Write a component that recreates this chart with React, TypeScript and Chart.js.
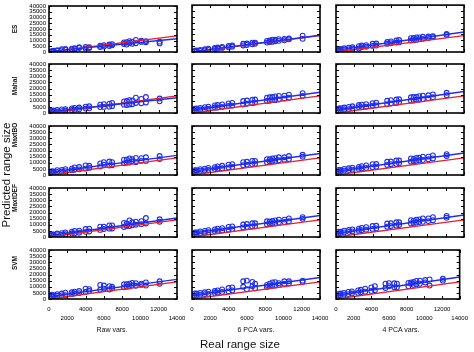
import React, { useEffect, useRef } from "react";
import { Chart, registerables } from "chart.js";
Chart.register(...registerables);

// ---------- data ----------
const realX = [300, 500, 900, 1400, 1800, 2500, 2800, 3300, 4000, 4400, 5600, 6000, 6600, 6900, 8200, 8500, 8800, 9100, 9500, 10100, 10600, 12100];
const xTickValues = [0, 2000, 4000, 6000, 8000, 10000, 12000, 14000];
const yTickValues = [0, 5000, 10000, 15000, 20000, 25000, 30000, 35000, 40000];
const identityLine = [0, 14000];
const models = ["ES", "Mahal", "MaxtBO", "MaxtDEF", "SVM"];
const varSets = ["Raw vars.", "6 PCA vars.", "4 PCA vars."];

const esRawA = [800, 1200, 1500, 2500, 1800, 2900, 3200, 3500, 3000, 4200, 5500, 4800, 6500, 5800, 7000, 8500, 9500, 7200, 10500, 8800, 8500, 7500];
const esRawB = [400, 700, 1000, 1500, 2600, 2200, 2500, 4200, 4400, 3500, 4300, 6000, 5200, 6800, 8300, 6500, 7800, 9000, 7600, 9800, 9500, 9000];
const esRawFit = [500, 11500];
const es6A = [1200, 800, 1800, 1500, 2800, 2500, 3800, 3500, 5200, 4500, 7000, 6000, 8000, 7000, 9500, 8500, 10500, 9200, 11000, 10000, 11500, 14000];
const es6B = [500, 1300, 1000, 2300, 1800, 3400, 2900, 4300, 4000, 5500, 5600, 7200, 6600, 8000, 8000, 9800, 8800, 10400, 9500, 11200, 10800, 11200];
const es6Fit = [300, 14300];
const es4A = [2500, 1500, 3200, 2200, 4200, 3000, 5500, 4500, 7000, 5500, 8500, 7500, 9800, 8200, 11800, 10000, 12500, 10800, 13000, 12000, 13500, 15500];
const es4B = [1500, 2500, 2000, 3600, 3000, 5000, 4000, 5800, 5200, 7200, 7000, 9000, 8000, 10200, 9800, 12000, 10500, 12500, 11200, 13200, 12800, 14500];
const es4Fit = [1500, 17000];

const mahalRawA = [1800, 900, 2500, 1500, 3200, 2400, 4200, 3000, 5200, 3800, 6800, 7200, 5200, 8200, 9500, 6500, 10500, 7200, 12500, 8000, 13000, 9500];
const mahalRawB = [800, 2000, 1200, 2900, 2000, 3800, 2600, 4500, 3600, 5500, 4800, 5000, 7600, 5600, 6800, 9800, 7000, 10200, 8200, 11500, 8600, 11800];
const mahalRawFit = [1000, 12500];
const mahal6A = [3500, 2200, 4200, 3000, 5200, 4500, 6500, 5000, 7800, 6000, 9800, 7500, 10800, 8500, 12500, 10000, 13000, 10500, 14000, 11800, 15000, 14000];
const mahal6B = [2000, 3800, 2800, 4800, 3500, 6200, 4500, 7000, 5800, 8200, 7000, 10200, 8000, 11000, 9800, 12800, 10500, 13500, 11000, 14200, 12500, 16200];
const mahal6Fit = [2500, 17000];
const mahal4A = [3800, 2500, 4500, 3200, 5500, 4800, 6800, 5200, 8000, 6200, 10000, 7800, 11000, 8800, 12800, 10200, 13200, 10800, 14200, 12000, 15200, 14500];
const mahal4B = [2300, 4000, 3000, 5000, 3800, 6500, 4800, 7200, 6000, 8500, 7200, 10500, 8200, 11200, 10000, 13000, 10800, 13800, 11200, 14500, 12800, 16500];
const mahal4Fit = [2500, 17500];

const maxtBORawA = [3200, 2000, 4000, 2800, 4800, 3800, 6200, 4600, 7800, 5800, 9500, 8500, 11000, 8000, 12500, 10000, 13500, 11000, 14000, 11500, 14500, 15500];
const maxtBORawB = [1800, 3000, 2400, 4200, 3200, 5200, 4200, 6500, 5200, 7500, 7000, 10500, 7800, 10500, 9500, 12500, 10200, 13000, 10500, 13800, 11500, 13000];
const maxtBORawFit = [2000, 16000];
const maxtBO6A = [4000, 2800, 4800, 3800, 5800, 4800, 7000, 5500, 8500, 6500, 10500, 8500, 11500, 9000, 13000, 11000, 13500, 11500, 14500, 12500, 15500, 16500];
const maxtBO6B = [2800, 4000, 3500, 5200, 4200, 6400, 5200, 7500, 6200, 8800, 8000, 10800, 8800, 11500, 10500, 12800, 11200, 13800, 12000, 14500, 13000, 15000];
const maxtBO6Fit = [3000, 17500];
const maxtBO4A = [4200, 3000, 5000, 4000, 6000, 5000, 7200, 5800, 8800, 6800, 10800, 8800, 11800, 9500, 13500, 11200, 14000, 12000, 15000, 12800, 16000, 17000];
const maxtBO4B = [3000, 4200, 3600, 5500, 4400, 6600, 5400, 7800, 6400, 9000, 8200, 11000, 9000, 11800, 10800, 13200, 11500, 14200, 12200, 15000, 13500, 15500];
const maxtBO4Fit = [3000, 18000];

const maxtDEFRawA = [2000, 1000, 2800, 1800, 3800, 2800, 5000, 3500, 6500, 4500, 8500, 6500, 9500, 7000, 11500, 9000, 13500, 9500, 12500, 10500, 15500, 14500];
const maxtDEFRawB = [1000, 2000, 1500, 3200, 2200, 4400, 3000, 5200, 4200, 6800, 5800, 8500, 6800, 9500, 8200, 11000, 9000, 12000, 10000, 13000, 11000, 12500];
const maxtDEFRawFit = [1000, 15500];
const maxtDEF6A = [3800, 2600, 4600, 3600, 5600, 4600, 6800, 5400, 8200, 6400, 10200, 8200, 11200, 8800, 12800, 10800, 13200, 11200, 14200, 12200, 15200, 16200];
const maxtDEF6B = [2600, 3800, 3200, 5000, 4000, 6200, 5000, 7200, 6000, 8600, 7800, 10600, 8600, 11200, 10200, 12600, 11000, 13600, 11800, 14200, 12800, 14800];
const maxtDEF6Fit = [3000, 17500];
const maxtDEF4A = [4400, 3200, 5200, 4200, 6200, 5200, 7400, 6000, 9000, 7000, 11000, 9000, 12000, 9800, 13800, 11500, 14200, 12200, 15200, 13000, 16200, 17200];
const maxtDEF4B = [3200, 4400, 3800, 5700, 4600, 6800, 5600, 8000, 6600, 9200, 8400, 11200, 9200, 12000, 11000, 13400, 11800, 14400, 12400, 15200, 13700, 15800];
const maxtDEF4Fit = [3000, 18000];

const svmRawA = [3500, 2200, 4000, 3000, 5200, 4000, 6000, 4800, 8500, 6500, 11500, 8500, 10500, 8500, 12000, 10000, 12500, 11000, 13000, 11500, 13500, 14500];
const svmRawB = [2000, 3200, 2600, 4500, 3200, 5500, 4500, 6500, 5800, 8000, 7500, 11000, 7800, 10000, 9500, 12000, 10200, 13200, 10800, 12500, 11000, 12500];
const svmRawFit = [2000, 16000];
const svm6A = [4500, 3000, 5000, 4000, 6000, 5000, 7000, 5800, 9000, 7000, 14500, 15000, 14000, 8800, 11500, 12500, 13500, 11000, 13000, 12500, 14500, 15000];
const svm6B = [3000, 4500, 3500, 5500, 4200, 6500, 5200, 7800, 6200, 9500, 10000, 8000, 10500, 12500, 9800, 10500, 11000, 13800, 11500, 14500, 12800, 13800];
const svm6Fit = [3000, 17500];
const svm4A = [4200, 3000, 5000, 4000, 6200, 5000, 7500, 6000, 9500, 7200, 12500, 13000, 12800, 9500, 13200, 12500, 14000, 12000, 15000, 13500, 16000, 16500];
const svm4B = [3000, 4500, 3600, 5800, 4500, 7000, 5500, 8500, 6500, 10500, 9000, 10500, 9500, 12500, 10500, 13500, 11500, 14800, 12500, 15500, 11000, 15000];
const svm4Fit = [3000, 18000];

const panels = [
  [[esRawA, esRawB, esRawFit], [es6A, es6B, es6Fit], [es4A, es4B, es4Fit]],
  [[mahalRawA, mahalRawB, mahalRawFit], [mahal6A, mahal6B, mahal6Fit], [mahal4A, mahal4B, mahal4Fit]],
  [[maxtBORawA, maxtBORawB, maxtBORawFit], [maxtBO6A, maxtBO6B, maxtBO6Fit], [maxtBO4A, maxtBO4B, maxtBO4Fit]],
  [[maxtDEFRawA, maxtDEFRawB, maxtDEFRawFit], [maxtDEF6A, maxtDEF6B, maxtDEF6Fit], [maxtDEF4A, maxtDEF4B, maxtDEF4Fit]],
  [[svmRawA, svmRawB, svmRawFit], [svm6A, svm6B, svm6Fit], [svm4A, svm4B, svm4Fit]],
];

// ---------- layout ----------
const W = 474;
const H = 352;
const AXW = 30; // fixed y-axis box width
const AXH = 30; // fixed x-axis box height
const colLeft = [49, 192, 336];
const colRight = [177, 320, 464];
const rowTop = [3, 64, 126, 188, 250];
const rowBottom = [52, 113, 175, 237, 299];
const rowLabelY = [29, 86, 135, 198, 263];
const colLabelX = [112, 256, 401];
const FONT = "'Liberation Sans', Arial, sans-serif";
const BLUE = "#1f2ee8";
const RED = "#e8202a";

const framePlugin = {
  id: "frameTicks",
  afterDatasetsDraw(chart: any) {
    const { ctx, chartArea: a, scales } = chart;
    const xs = scales.x;
    const ys = scales.y;
    ctx.save();
    ctx.strokeStyle = "#000";
    ctx.lineWidth = 1;
    ctx.beginPath();
    xs.ticks.forEach((t: any) => {
      const px = Math.round(xs.getPixelForValue(t.value)) + 0.5;
      ctx.moveTo(px, a.bottom);
      ctx.lineTo(px, a.bottom - 3);
      ctx.moveTo(px, a.top);
      ctx.lineTo(px, a.top + 3);
    });
    ys.ticks.forEach((t: any) => {
      const py = Math.round(ys.getPixelForValue(t.value)) + 0.5;
      ctx.moveTo(a.left, py);
      ctx.lineTo(a.left + 3, py);
      ctx.moveTo(a.right, py);
      ctx.lineTo(a.right - 3, py);
    });
    ctx.stroke();
    ctx.lineWidth = 1.6;
    ctx.strokeRect(a.left, a.top, a.right - a.left, a.bottom - a.top);
    ctx.restore();
  },
};

function makeConfig(r: number, c: number): any {
  const [ya, yb, fit] = panels[r][c];
  const pts = realX.map((x, i) => ({ x, y: ya[i] })).concat(realX.map((x, i) => ({ x, y: yb[i] })));
  const showY = c === 0;
  const showX = r === panels.length - 1;
  return {
    type: "scatter",
    data: {
      datasets: [
        {
          type: "line",
          data: [
            { x: identityLine[0], y: fit[0] },
            { x: identityLine[1], y: fit[1] },
          ],
          borderColor: BLUE,
          borderWidth: 1.4,
          pointRadius: 0,
          fill: false,
        },
        {
          type: "line",
          data: [
            { x: identityLine[0], y: identityLine[0] },
            { x: identityLine[1], y: identityLine[1] },
          ],
          borderColor: RED,
          borderWidth: 1.4,
          pointRadius: 0,
          fill: false,
        },
        {
          data: pts,
          pointStyle: "circle",
          pointRadius: 2.4,
          borderWidth: 1.1,
          borderColor: BLUE,
          backgroundColor: "rgba(0,0,0,0)",
        },
      ],
    },
    options: {
      responsive: false,
      animation: false,
      events: [],
      devicePixelRatio: 1,
      layout: {
        padding: {
          left: colLeft[c] - AXW,
          right: W - colRight[c],
          top: rowTop[r],
          bottom: H - rowBottom[r] - AXH,
        },
      },
      plugins: { legend: { display: false }, tooltip: { enabled: false }, title: { display: false } },
      scales: {
        x: {
          type: "linear",
          min: 0,
          max: 14000,
          grid: { display: false, drawTicks: false },
          border: { display: false },
          afterFit: (s: any) => {
            s.height = AXH;
          },
          afterBuildTicks: (s: any) => {
            s.ticks = xTickValues.map((v) => ({ value: v }));
          },
          ticks: {
            display: showX,
            autoSkip: false,
            maxRotation: 0,
            minRotation: 0,
            padding: 6,
            color: "#000",
            font: { family: FONT, size: 6, lineHeight: 1.5 },
            callback: (v: any, i: number) => (i % 2 === 0 ? [String(v)] : ["", String(v)]),
          },
        },
        y: {
          type: "linear",
          min: 0,
          max: 40000,
          grid: { display: false, drawTicks: false },
          border: { display: false },
          afterFit: (s: any) => {
            s.width = AXW;
          },
          afterBuildTicks: (s: any) => {
            s.ticks = yTickValues.map((v) => ({ value: v }));
          },
          ticks: {
            display: showY,
            autoSkip: false,
            padding: 3,
            color: "#000",
            font: { family: FONT, size: 6, lineHeight: 1 },
            callback: (v: any) => String(v),
          },
        },
      },
    },
    plugins: [framePlugin],
  };
}

const abs = (x: number, y: number, rot: boolean, size: number, bold = false): React.CSSProperties => ({
  position: "absolute",
  left: x,
  top: y,
  transform: `translate(-50%, -50%)${rot ? " rotate(-90deg)" : ""}`,
  whiteSpace: "nowrap",
  fontFamily: FONT,
  fontSize: size,
  fontWeight: bold ? "bold" : "normal",
  color: "#111",
  lineHeight: 1,
});

export default function App() {
  const refs = useRef<(HTMLCanvasElement | null)[]>([]);
  useEffect(() => {
    const charts: Chart[] = [];
    for (let r = 0; r < panels.length; r++) {
      for (let c = 0; c < 3; c++) {
        const cv = refs.current[r * 3 + c];
        if (cv) charts.push(new Chart(cv, makeConfig(r, c)));
      }
    }
    return () => charts.forEach((ch) => ch.destroy());
  }, []);

  const canvases = [];
  for (let i = 0; i < panels.length * 3; i++) {
    canvases.push(
      <canvas
        key={i}
        width={W}
        height={H}
        ref={(el) => {
          refs.current[i] = el;
        }}
        style={{ position: "absolute", left: 0, top: 0, width: W, height: H }}
      />
    );
  }

  return (
    <div style={{ position: "fixed", left: 0, top: 0, width: W, height: H, background: "#fff", overflow: "hidden" }}>
      {canvases}
      {models.map((m, i) => (
        <div key={m} style={abs(15, rowLabelY[i], true, 6.5, true)}>
          {m}
        </div>
      ))}
      {varSets.map((v, i) => (
        <div key={v} style={abs(colLabelX[i], 329, false, 7)}>
          {v}
        </div>
      ))}
      <div style={abs(240, 345, false, 11.5)}>Real range size</div>
      <div style={abs(7, 175, true, 11.5)}>Predicted range size</div>
    </div>
  );
}
